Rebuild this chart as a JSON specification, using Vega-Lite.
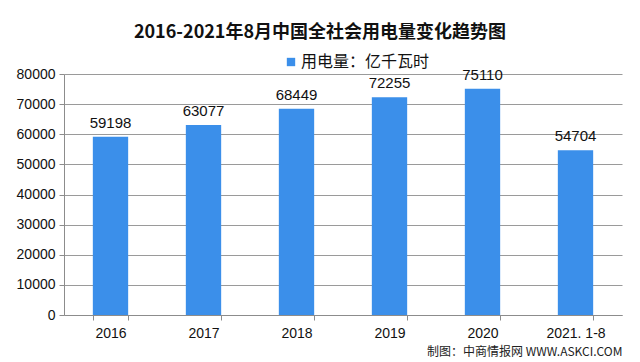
{
  "$schema": "https://vega.github.io/schema/vega-lite/v6.json",
  "autosize": "none",
  "width": 558,
  "height": 241,
  "padding": {"left": 64, "top": 74, "right": 18, "bottom": 47},
  "background": "white",
  "title": {
    "text": "2016-2021年8月中国全社会用电量变化趋势图",
    "font": "Noto Sans CJK SC",
    "fontSize": 18,
    "fontWeight": "bold",
    "color": "#111111",
    "anchor": "middle",
    "dx": -23,
    "offset": 12
  },
  "data": {
    "values": [
      {"year": "2016", "value": 59198, "series": "用电量：亿千瓦时"},
      {"year": "2017", "value": 63077, "series": "用电量：亿千瓦时"},
      {"year": "2018", "value": 68449, "series": "用电量：亿千瓦时"},
      {"year": "2019", "value": 72255, "series": "用电量：亿千瓦时"},
      {"year": "2020", "value": 75110, "series": "用电量：亿千瓦时"},
      {"year": "2021. 1-8", "value": 54704, "series": "用电量：亿千瓦时"}
    ]
  },
  "config": {
    "view": {"stroke": null},
    "axis": {"labelFont": "Liberation Sans", "labelFontSize": 14, "labelColor": "#111111", "domainColor": "#8c8c8c", "tickColor": "#8c8c8c", "gridColor": "#9a9a9a"}
  },
  "encoding": {
    "x": {
      "field": "year", "type": "nominal", "sort": null,
      "scale": {"paddingInner": 0.62, "paddingOuter": 0.31},
      "axis": {
        "title": "制图：中商情报网 WWW.ASKCI.COM",
        "titleAnchor": "end",
        "titleFont": "Noto Sans CJK SC",
        "titleFontSize": 12,
        "titleFontWeight": "normal",
        "titleColor": "#222222",
        "titlePadding": 6,
        "labelAngle": 0,
        "labelPadding": 6,
        "tickBand": "extent",
        "tickSize": 5,
        "grid": false
      }
    },
    "y": {
      "field": "value", "type": "quantitative",
      "scale": {"domain": [0, 80000]},
      "axis": {"title": null, "values": [0,10000,20000,30000,40000,50000,60000,70000,80000], "format": "d", "tickSize": 5, "labelPadding": 4, "grid": true}
    }
  },
  "layer": [
    {
      "mark": {"type": "bar", "color": "#3b8fea"},
      "encoding": {
        "color": {
          "field": "series", "type": "nominal",
          "scale": {"range": ["#3b8fea"]},
          "legend": {
            "title": null, "orient": "none", "legendX": 219, "legendY": -20,
            "symbolType": "square", "symbolSize": 70, "labelFont": "Noto Sans CJK SC",
            "labelFontSize": 16, "labelColor": "#111111", "labelOffset": 2
          }
        }
      }
    },
    {
      "mark": {"type": "text", "dy": -14, "font": "Liberation Sans", "fontSize": 15, "color": "#111111"},
      "encoding": {"text": {"field": "value", "type": "quantitative", "format": "d"}}
    }
  ]
}
